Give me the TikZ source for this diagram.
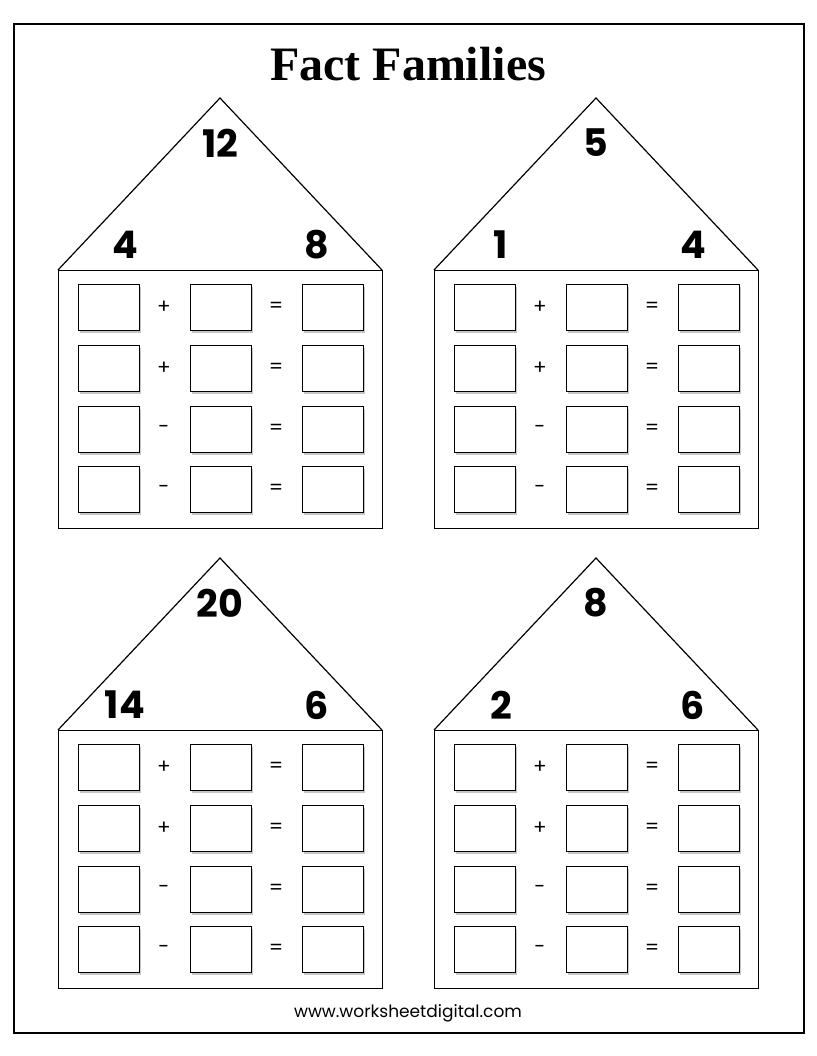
\documentclass[tikz,border=0pt]{standalone}
\usepackage{fontspec}
\setmainfont{Poppins}
\newfontfamily\titlefont{Liberation Serif}
\usetikzlibrary{shadows}
\begin{document}
\begin{tikzpicture}[x=1pt,y=-1pt,
  line join=miter,
  frame/.style={draw,line width=1.6pt},
  wall/.style={draw,line width=1.2pt},
  ansbox/.style={draw,line width=1pt,fill=white,minimum width=61pt,minimum height=46pt,inner sep=0pt,anchor=north west,
     drop shadow={shadow xshift=1.5pt,shadow yshift=-2.5pt,opacity=0.45}},
  op/.style={font=\fontsize{20}{20}\selectfont},
  num/.style={font=\fontsize{38}{38}\selectfont\bfseries}]
\useasboundingbox (0,0) rectangle (816,1056);
\node[frame,minimum width=790pt,minimum height=1009pt,anchor=north west,inner sep=0pt] (page) at (13,23) {};
\node[font=\titlefont\bfseries\fontsize{48}{48}\selectfont] (title) at (408,64) {Fact Families};
\node[font=\fontsize{17}{17}\selectfont] (foot) at (408,1013) {www.worksheetdigital.com};
\foreach \dx/\dy/\t/\l/\r [count=\h] in {0/0/12/4/8, 376/0/5/1/4, 0/460/20/14/6, 376/460/8/2/6}{
  \begin{scope}[shift={(\dx,\dy)}]
    \coordinate (apex\h) at (220,98);
    \coordinate (bl\h) at (58,270);
    \coordinate (br\h) at (382,270);
    \draw[wall] (bl\h) -- (apex\h) -- (br\h);
    \node[wall,minimum width=324pt,minimum height=258pt,inner sep=0pt,anchor=north west] (body\h) at (58,270) {};
    \node[num] (top\h) at (220,143) {\t};
    \node[num] (left\h) at (125,245) {\l};
    \node[num] (right\h) at (317,245) {\r};
    \foreach \y/\o [count=\k] in {284/+,345/+,406/-,466/-}{
      \node[ansbox] (a\h\k) at (78,\y) {};
      \node[ansbox] (b\h\k) at (190,\y) {};
      \node[ansbox] (c\h\k) at (302,\y) {};
      \node[op] (o\h\k) at (164,\y+23) {\o};
      \node[op] (e\h\k) at (276,\y+23) {=};
    }
  \end{scope}
}
\end{tikzpicture}
\end{document}
